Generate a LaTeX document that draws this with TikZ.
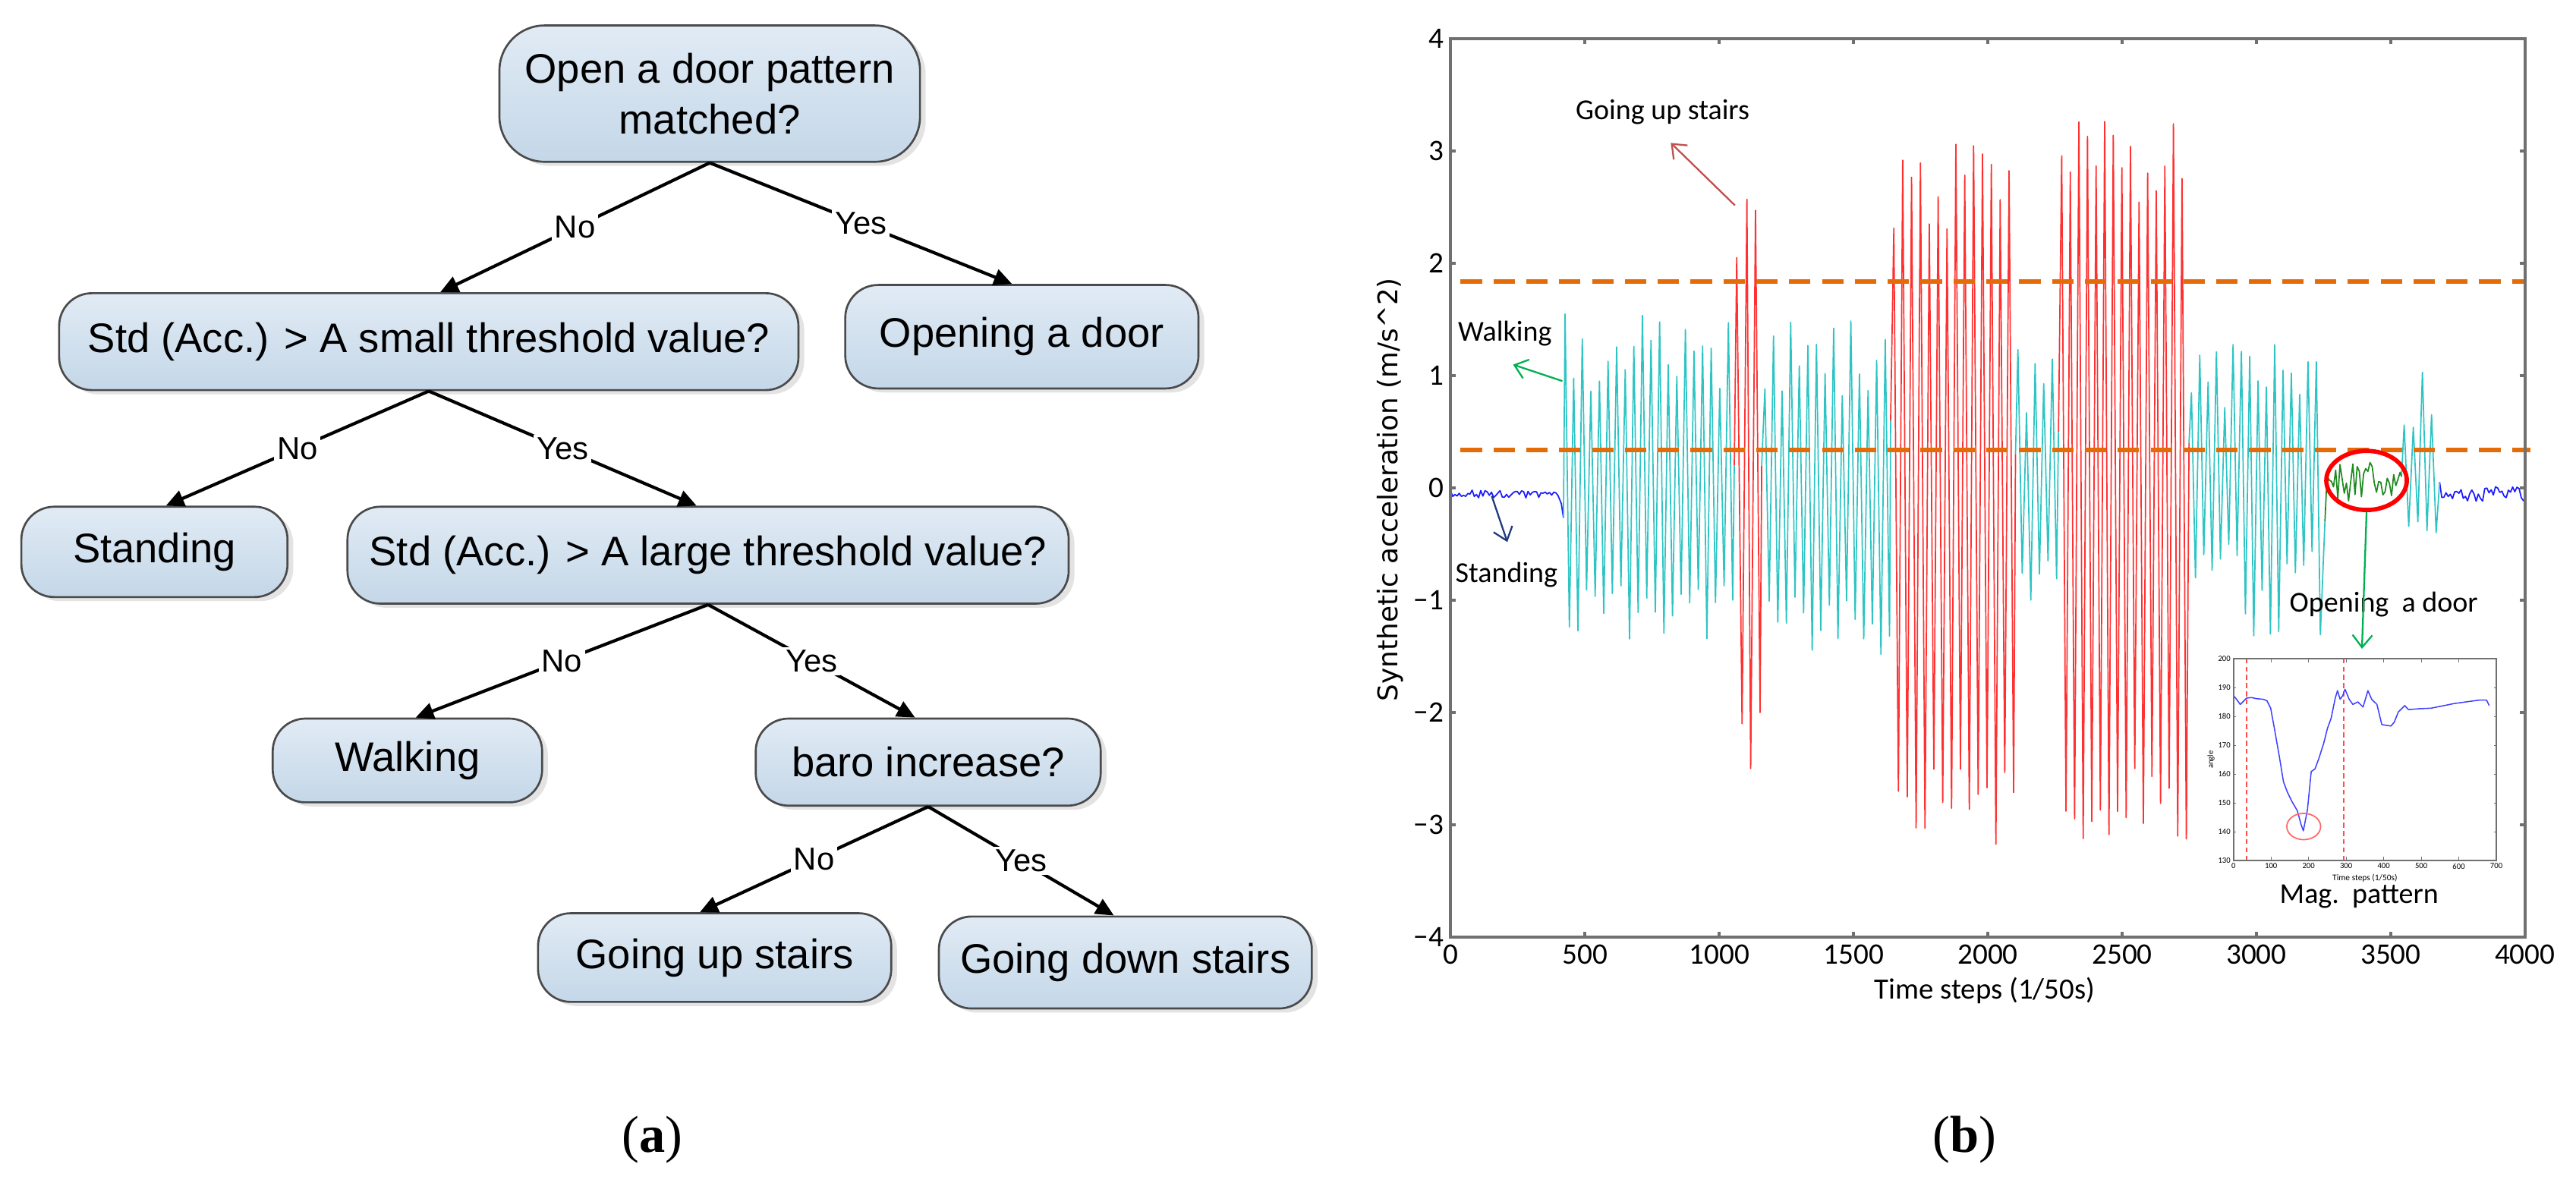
\documentclass[tikz,border=0pt]{standalone}
\usepackage{fontspec}
\setmainfont{Liberation Sans}
\newfontfamily\plotfont{Carlito}
\newfontfamily\axisfont{DejaVu Sans}
\newfontfamily\capfont{Liberation Serif}
\usepackage{tikz}
\usetikzlibrary{arrows.meta, shadows, shapes.geometric}

\definecolor{boxtop}{HTML}{E1EBF5}
\definecolor{boxbot}{HTML}{C4D7E8}
\definecolor{boxline}{HTML}{4A4A4A}
\definecolor{walkc}{HTML}{2EC4C4}
\definecolor{stairc}{HTML}{FF3030}
\definecolor{standc}{HTML}{1A1AFF}
\definecolor{doorc}{HTML}{1E8A1E}
\definecolor{thrc}{HTML}{E36C09}
\definecolor{upc}{HTML}{C0504D}
\definecolor{walkarrc}{HTML}{00B050}
\definecolor{standarrc}{HTML}{1F3A7A}
\definecolor{framec}{HTML}{707070}

\begin{document}
\begin{tikzpicture}[x=0.2mm, y=-0.2mm,
		decision/.style={draw=boxline, line width=0.7pt, rounded corners=0.4cm,
			top color=boxtop, bottom color=boxbot, align=center, inner sep=0pt,
			drop shadow={shadow xshift=0.7mm, shadow yshift=-0.5mm, fill=black!22},
			font=\fontsize{14.3}{17.5}\selectfont},
		branch/.style={-{Triangle[length=2.2mm, width=2mm]}, line width=1.1pt},
		answer/.style={midway, fill=white, inner sep=1pt, font=\fontsize{11}{13}\selectfont},
		note/.style={inner sep=0pt, font=\plotfont\fontsize{10}{12}\selectfont},
		xtick/.style={anchor=north, inner sep=0pt, yshift=-0.9mm, font=\plotfont\fontsize{10.3}{12}\selectfont},
		ytick/.style={anchor=east, inner sep=0pt, xshift=-0.8mm, font=\plotfont\fontsize{10.3}{12}\selectfont},
		tinytick/.style={inner sep=0pt, font=\plotfont\fontsize{2.8}{3}\selectfont},
		frame/.style={draw=framec, line width=1pt},
		trace/.style={line width=0.45pt, line join=round},
		thresh/.style={draw=thrc, line width=1.6pt, dash pattern=on 2.6mm off 1.4mm},
		pointer/.style={-{Straight Barb[length=1.5mm, width=2.4mm]}, line width=0.6pt},
		caption/.style={inner sep=0pt, font=\capfont\fontsize{18}{20}\selectfont}]

	\useasboundingbox (0,0) rectangle (1568,722);

	% (a) decision tree
	\node[decision, minimum width=5.12cm, minimum height=1.66cm, rounded corners=0.55cm] (root) at (432,57) {Open a door pattern\\matched?};
	\node[decision, minimum width=9cm, minimum height=1.18cm] (small) at (261,208) {Std (Acc.) > A small threshold value?};
	\node[decision, minimum width=4.3cm, minimum height=1.26cm] (door) at (622,205) {Opening a door};
	\node[decision, minimum width=3.24cm, minimum height=1.1cm] (stand) at (94,336) {Standing};
	\node[decision, minimum width=8.78cm, minimum height=1.18cm] (large) at (431,338) {Std (Acc.) > A large threshold value?};
	\node[decision, minimum width=3.28cm, minimum height=1.02cm] (walk) at (248,463) {Walking};
	\node[decision, minimum width=4.2cm, minimum height=1.06cm] (baro) at (565,464) {baro increase?};
	\node[decision, minimum width=4.3cm, minimum height=1.08cm] (up) at (435,583) {Going up stairs};
	\node[decision, minimum width=4.54cm, minimum height=1.12cm] (down) at (685,586) {Going down stairs};

	\draw[branch] (root.south) -- ([xshift=1.4mm]small.north) node[answer] {No};
	\draw[branch] (root.south) -- ([xshift=-1.2mm]door.north) node[answer] {Yes};
	\draw[branch] (small.south) -- ([xshift=1.4mm]stand.north) node[answer] {No};
	\draw[branch] (small.south) -- ([xshift=-1.4mm]large.north) node[answer] {Yes};
	\draw[branch] (large.south) -- ([xshift=1mm]walk.north) node[answer] {No};
	\draw[branch] (large.south) -- ([xshift=-1.6mm]baro.north) node[answer] {Yes};
	\draw[branch] (baro.south) -- ([xshift=-1.8mm]up.north) node[answer] {No};
	\draw[branch] (baro.south) -- ([xshift=-1.4mm]down.north) node[answer] {Yes};

	\node[caption] (capA) at (397,694) {(\textbf{a})};

	% (b) acceleration trace
	\begin{scope}[shift={(883,297)}, x=0.0327mm, y=13.675mm]
		\pgfmathsetseed{27}
		% standing
		\draw[trace, standc] (0,-0.03) \foreach \k in {1,...,50} { -- ({\k*8}, {-0.09+0.07*rnd}) } -- (412,-0.14) -- (420,-0.27);
		\draw[trace, standc] (3682,0.05) \foreach \k in {1,...,39} { -- ({3682+\k*8}, {-0.12+0.13*rnd}) } -- (4000,-0.12);
		% walking
		\draw[trace, walkc] (420,-0.27) \foreach \k in {0,...,19} { -- ({426+\k*32}, {0.85+0.7*rnd}) -- ({442+\k*32}, {-0.85-0.5*rnd}) } -- (1056,0.2);
		\draw[trace, walkc] (1158,0.2) \foreach \k in {0,...,14} { -- ({1170+\k*32}, {0.8+0.7*rnd}) -- ({1186+\k*32}, {-0.95-0.55*rnd}) } -- (1638,0.6);
		\draw[trace, walkc] (2103,0.3) \foreach \k in {0,...,4} { -- ({2112+\k*32}, {0.5+0.75*rnd}) -- ({2128+\k*32}, {-0.55-0.45*rnd}) } -- (2263,0.5);
		\draw[trace, walkc] (2749,0.4) \foreach \k in {0,...,15} { -- ({2758+\k*31}, {0.4+0.9*rnd}) -- ({2773+\k*31}, {-0.45-0.95*rnd}) } -- (3255,-0.3);
		\draw[trace, walkc] (3540,0.1) \foreach \k in {0,...,3} { -- ({3550+\k*34}, {0.5+0.55*rnd}) -- ({3567+\k*34}, {-0.3-0.2*rnd}) } -- (3682,0.05);
		% stairs
		\draw[trace, stairc] (1056,0.2) -- (1065,2.05) -- (1085,-2.1) -- (1103,2.57) -- (1117,-2.5) -- (1135,2.47) -- (1152,-2.0) -- (1158,0.2);
		\draw[trace, stairc] (1638,0.6) \foreach \k in {0,...,13} { -- ({1650+\k*33}, {2.3+0.8*rnd}) -- ({1667+\k*33}, {-2.5-0.7*rnd}) } -- (2103,0.3);
		\draw[trace, stairc] (2263,0.5) \foreach \k in {0,...,14} { -- ({2275+\k*32}, {2.5+0.8*rnd}) -- ({2291+\k*32}, {-2.5-0.65*rnd}) } -- (2749,0.4);
		% door
		\draw[trace, doorc] (3255,-0.3) \foreach \k in {1,...,35} { -- ({3255+\k*8}, {-0.12+0.36*rnd}) } -- (3540,0.1);

		\draw[thresh] (37,1.84) -- (4000,1.84);
		\draw[thresh] (37,0.34) -- (4020,0.34);

		\draw[frame] (0,-4) rectangle (4000,4);
		\foreach \t in {500,1000,...,3500} {
			\draw[frame] (\t,-4) -- (\t,-3.955);
			\draw[frame] (\t,4) -- (\t,3.955);
		}
		\foreach \v in {-3,...,3} {
			\draw[frame] (0,\v) -- (18,\v);
			\draw[frame] (4000,\v) -- (3982,\v);
		}
		\foreach \t in {0,500,...,4000}
			\node[xtick] (xt\t) at (\t,-4) {\t};
		\foreach \v/\s in {4/4,3/3,2/2,1/1,0/0,-1/−1,-2/−2,-3/−3,-4/−4}
			\node[ytick] (yt\v) at (0,\v) {\s};
	\end{scope}

	\node[rotate=90, inner sep=0pt, font=\axisfont\fontsize{9.4}{11}\selectfont] (ylab) at (846,298) {Synthetic acceleration (m/s\textasciicircum 2)};
	\node[note, font=\plotfont\fontsize{10.2}{12}\selectfont] (xlab) at (1208,603) {Time steps (1/50s)};

	% annotations
	\node[note] (upLbl) at (1012,68) {Going up stairs};
	\coordinate (upTail) at (1056,125);
	\coordinate (upHead) at (1017,87);
	\draw[pointer, upc] (upTail) -- (upHead);

	\node[note] (walkLbl) at (916,203) {Walking};
	\coordinate (walkTail) at (951,232);
	\coordinate (walkHead) at (921,222);
	\draw[pointer, walkarrc] (walkTail) -- (walkHead);

	\node[note] (standLbl) at (917,350) {Standing};
	\coordinate (standTail) at (908,302);
	\coordinate (standHead) at (917.5,330);
	\draw[pointer, standarrc] (standTail) -- (standHead);

	\node[draw=red, line width=1.5pt, ellipse, minimum width=9.8mm, minimum height=7.2mm, inner sep=0pt] (ring) at (1440.5,292.5) {};
	\node[note] (doorLbl) at (1451,368) {Opening\ \ a door};
	\coordinate (doorHead) at (1437.7,395);
	\draw[pointer, walkarrc] (ring.south) -- (doorHead);

	% inset: magnetometer pattern
	\begin{scope}[shift={(1359.5,523.9)}, x=0.04571mm, y=0.3506mm, shift={(0,-130)}]
		\draw[red!70, line width=0.5pt, dash pattern=on 0.6mm off 0.4mm] (35,130) -- (35,200);
		\draw[red!70, line width=0.5pt, dash pattern=on 0.6mm off 0.4mm] (293,130) -- (293,200);
		\draw[blue!75, line width=0.4pt, line join=round] plot coordinates {
			(0,187.3) (8,186) (18,184.2) (28,185.5) (35,186.4) (48,186.6) (62,186.2) (79,186)
			(89,185.5) (99,182.9) (109,175.8) (122,166.2) (133,157.4) (143,153.9) (156,150.4)
			(170,147.3) (180,142.5) (186,140.3) (197,147.7) (207,160.9) (217,161.8) (227,165.3)
			(240,170.6) (250,175.8) (260,179.4) (271,186.4) (277,189) (284,186) (291,187.3)
			(297,189.5) (308,186) (318,184.2) (331,185.1) (345,183.3) (358,189) (368,186)
			(382,184.2) (395,177.2) (419,176.7) (428,178) (439,181.6) (456,183.8) (466,182.4)
			(493,182.7) (526,182.9) (553,183.6) (587,184.5) (620,185.1) (654,185.7) (674,185.7)
			(681,183.8)};
		\draw[red!60, line width=0.45pt] (187,141.8) ellipse [x radius=2.06mm, y radius=1.6mm];
		\draw[framec, line width=0.5pt] (0,130) rectangle (700,200);
		\foreach \t in {100,200,...,600} {
			\draw[framec, line width=0.3pt] (\t,130) -- (\t,131.2);
			\draw[framec, line width=0.3pt] (\t,200) -- (\t,198.8);
		}
		\foreach \v in {140,150,...,190} {
			\draw[framec, line width=0.3pt] (0,\v) -- (7,\v);
			\draw[framec, line width=0.3pt] (700,\v) -- (693,\v);
		}
		\foreach \t in {0,100,...,700}
			\node[tinytick, anchor=north, yshift=-0.3mm] (it\t) at (\t,130) {\t};
		\foreach \v in {130,140,...,200}
			\node[tinytick, anchor=east, xshift=-0.3mm] (iv\v) at (0,\v) {\v};
		\node[tinytick, font=\plotfont\fontsize{3}{3.5}\selectfont] (ixlab) at (350,124) {Time steps (1/50s)};
		\node[tinytick, rotate=90] (iylab) at (-60,165) {angle};
	\end{scope}
	\node[note] (magLbl) at (1436,546) {Mag.\ \ pattern};

	\node[caption] (capB) at (1196,694) {(\textbf{b})};
\end{tikzpicture}
\end{document}
